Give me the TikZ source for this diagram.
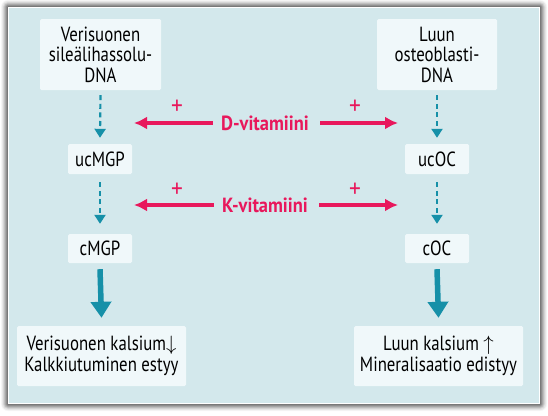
\documentclass[tikz,border=0pt]{standalone}
\usepackage{fontspec}
\setmainfont[FakeStretch=0.82]{PT Sans}
\newfontfamily\vitfont[FakeStretch=0.9]{PT Sans}
\usetikzlibrary{arrows.meta}
\definecolor{panel}{HTML}{D3E8EC}
\definecolor{boxfill}{HTML}{F0F8FA}
\definecolor{teal}{HTML}{1690A8}
\definecolor{vpink}{HTML}{E8185C}
\tikzset{
  box/.style={fill=boxfill, rounded corners=1.5pt, inner sep=0pt, align=center,
    font=\fontsize{20.5}{20.5}\selectfont},
  dasharrow/.style={teal, line width=2.2pt, dash pattern=on 5pt off 3.6pt,
    -{Triangle[width=11pt,length=9pt]}},
  thickarrow/.style={teal, line width=5.5pt, -{Triangle[width=20pt,length=16pt]}},
  vitarrow/.style={vpink, line width=3.4pt, -{Latex[width=13pt,length=13pt]}},
  vitlabel/.style={vpink, font=\vitfont\bfseries\fontsize{20.5}{20}\selectfont, inner sep=0pt},
  plus/.style={vpink, font=\vitfont\fontsize{26}{26}\selectfont, inner sep=0pt},
}
\begin{document}
\begin{tikzpicture}[x=1pt,y=-1pt]
\useasboundingbox (0,0) rectangle (548,415);
% shadow
\foreach \i/\o in {7/0.04,6/0.06,5/0.08,4/0.1,3/0.12,2/0.14,1/0.16}{
  \fill[black,opacity=\o,rounded corners=\i pt] (8-\i,7-\i) rectangle (540+\i,404+\i);
}
\fill[white] (8,7) rectangle (540,404);
\fill[panel] (9,8) rectangle (538.5,402.5);

% boxes
\node[box, minimum width=121pt, minimum height=71pt] (vdna) at (100.5,54.5)
  {Verisuonen\\sileälihassolu-\\DNA};
\node[box, minimum width=120pt, minimum height=71pt] (ldna) at (437,54.5)
  {Luun\\osteoblasti-\\DNA};
\node[box, minimum width=64pt, minimum height=30pt] (ucmgp) at (100,159) {ucMGP};
\node[box, minimum width=64pt, minimum height=30pt] (ucoc) at (437,159) {ucOC};
\node[box, minimum width=64pt, minimum height=29pt] (cmgp) at (100,248.5) {cMGP};
\node[box, minimum width=64pt, minimum height=29pt] (coc) at (437,248.5) {cOC};
\node[box, minimum width=169pt, minimum height=60pt] (vk) at (101.5,356)
  {Verisuonen kalsium$\downarrow$\\Kalkkiutuminen estyy};
\node[box, minimum width=169pt, minimum height=60pt] (lk) at (438.5,356)
  {Luun kalsium $\uparrow$\\Mineralisaatio edistyy};

% dashed arrows
\draw[dasharrow] ([yshift=-5pt]vdna.south) -- ([yshift=6pt]ucmgp.north);
\draw[dasharrow] ([yshift=-5pt]ldna.south) -- ([yshift=6pt]ucoc.north);
\draw[dasharrow] ([yshift=-8pt]ucmgp.south) -- ([yshift=10pt]cmgp.north);
\draw[dasharrow] ([yshift=-8pt]ucoc.south) -- ([yshift=10pt]coc.north);

% thick arrows
\draw[thickarrow] ([yshift=-6pt]cmgp.south) -- ([yshift=8pt]vk.north);
\draw[thickarrow] ([yshift=-6pt]coc.south) -- ([yshift=8pt]lk.north);

% vitamins
\node[vitlabel] (dvit) at (265,123) {D-vitamiini};
\node[vitlabel] (kvit) at (265,205) {K-vitamiini};
\coordinate (dl) at (134,123);
\coordinate (dr) at (398,123);
\coordinate (kl) at (134,205);
\coordinate (kr) at (398,205);
\draw[vitarrow] ([xshift=-8pt]dvit.west) -- (dl);
\draw[vitarrow] ([xshift=11pt]dvit.east) -- (dr);
\draw[vitarrow] ([xshift=-8pt]kvit.west) -- (kl);
\draw[vitarrow] ([xshift=11pt]kvit.east) -- (kr);
\node[plus] (p1) at (177,107.5) {+};
\node[plus] (p2) at (355,107.5) {+};
\node[plus] (p3) at (177,190) {+};
\node[plus] (p4) at (355,190) {+};
\end{tikzpicture}
\end{document}
